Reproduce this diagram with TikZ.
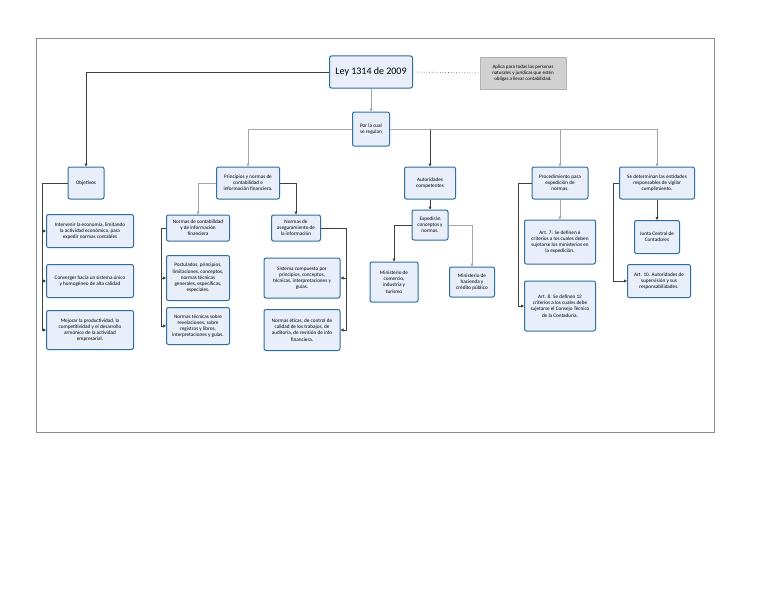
\documentclass[tikz,border=0pt]{standalone}
\usepackage{fontspec}
\setmainfont{Carlito}
\usetikzlibrary{arrows.meta}
\definecolor{bord}{RGB}{46,110,160}
\definecolor{bfill}{RGB}{232,238,250}
\begin{document}
\begin{tikzpicture}[x=1pt,y=-1pt,
 box/.style={draw=bord,line width=1pt,rounded corners=2pt,fill=bfill,align=center,font=\fontsize{5.2}{6.2}\selectfont,inner sep=1pt,minimum height=#1},
 box/.default=30,
 con/.style={draw=black!75,line width=0.8pt,-{Triangle[length=3pt,width=3pt]}},
 lcon/.style={draw=black!35,line width=0.8pt,-{Triangle[length=3pt,width=3pt]}}]
\useasboundingbox (0,0) rectangle (768,594);
\fill[white] (0,0) rectangle (768,594);
\draw[black!45,line width=0.8pt] (36,38) rectangle (714,432);
\node[box=32,minimum width=83,font=\fontsize{10}{11}\selectfont] (ley) at (371,72) {Ley 1314 de 2009};
\node[draw=black!30,fill=black!18,minimum width=86,minimum height=32,align=center,font=\fontsize{5}{6}\selectfont,inner sep=1pt] (note) at (523,73) {Aplica para todas las personas\\naturales y jurídicas que estén\\obligas a llevar contabilidad.};
\node[box=34,minimum width=37] (por) at (371,129) {Por la cual\\se regulan};
\node[box=32,minimum width=36] (obj) at (86,183) {Objetivos};
\node[box=32,minimum width=63] (pri) at (248,183) {Principios y normas de\\contabilidad e\\información financiera.};
\node[box=32,minimum width=51] (aut) at (430,183) {Autoridades\\competentes};
\node[box=32,minimum width=56] (pro) at (560,183) {Procedimiento para\\expedición de\\normas.};
\node[box=32,minimum width=75] (det) at (657,183) {Se determinan las entidades\\responsables de vigilar\\cumplimiento.};
\node[box=33,minimum width=87] (int) at (90,231) {Intervenir la economía, limitando\\la actividad económica, para\\expedir normas contables};
\node[box=33,minimum width=87] (con) at (90,281) {Converger hacia un sistema único\\y homogéneo de alta calidad};
\node[box=39,minimum width=87] (mej) at (90,330) {Mejorar la productividad, la\\competitividad y el desarrollo\\armónico de la actividad\\empresarial.};
\node[box=26,minimum width=63] (nc) at (198,228) {Normas de contabilidad\\y de información\\financiera};
\node[box=45,minimum width=63] (pos) at (198,278) {Postulados, principios,\\limitaciones, conceptos,\\normas técnicas\\generales, específicas,\\especiales.};
\node[box=37,minimum width=63] (nt) at (198,326) {Normas técnicas sobre\\revelaciones, sobre\\registros y libros,\\interpretaciones y guías.};
\node[box=26,minimum width=49] (na) at (296,228) {Normas de\\aseguramiento de\\la información};
\node[box=40,minimum width=76] (sis) at (302,278) {Sistema compuesto por\\principios, conceptos,\\técnicas, interpretaciones y\\guías.};
\node[box=41,minimum width=76] (eti) at (302,330) {Normas éticas, de control de\\calidad de los trabajos, de\\auditoría, de revisión de info\\financiera.};
\node[box=30,minimum width=36] (exp) at (430,225) {Expedirán\\conceptos y\\normas.};
\node[box=40,minimum width=48] (mc) at (394,282) {Ministerio de\\comercio,\\industria y\\turismo};
\node[box=30,minimum width=45] (mh) at (472,282) {Ministerio de\\hacienda y\\crédito público};
\node[box=44,minimum width=71] (a7) at (560,242) {Art. 7: Se definen 6\\criterios a los cuales deben\\sujetarse los ministerios en\\la expedición.};
\node[box=50,minimum width=71] (a8) at (560,306) {Art. 8. Se definen 12\\criterios a los cuales debe\\sujetarse el Consejo Técnico\\de la Contaduría.};
\node[box=33,minimum width=45] (jc) at (657,237) {Junta Central de\\Contadores};
\node[box=33,minimum width=63] (a10) at (659,281) {Art. 10. Autoridades de\\supervisión y sus\\responsabilidades.};
\draw[black!60,dotted,line width=0.7pt] (ley.east) -- (note.west);
\draw[con] (ley.west) -| (obj.north);
\draw[lcon] (ley.south) -- (por.north);
\draw[lcon] (por.west) -| (pri.north);
\draw[con] (por.east) -| (aut.north);
\draw[lcon] (por.east) -| (pro.north);
\draw[lcon] (por.east) -| (det.north);
\draw[con] (obj.west) -- ++(-25,0) |- (int.west);
\draw[con] (obj.west) -- ++(-25,0) |- (con.west);
\draw[con] (obj.west) -- ++(-25,0) |- (mej.west);
\draw[lcon] (pri.west) -| (nc.north);
\draw[con] (pri.east) -| (na.north);
\draw[con] (nc.west) -- ++(-5,0) |- (pos.west);
\draw[con] (nc.west) -- ++(-5,0) |- (nt.west);
\draw[con] (na.east) -- ++(25,0) |- (sis.east);
\draw[con] (na.east) -- ++(25,0) |- (eti.east);
\draw[con] (aut.south) -- (exp.north);
\draw[con] (exp.west) -| (mc.north);
\draw[lcon] (exp.east) -| (mh.north);
\draw[lcon] (pro.south) -- (a7.north);
\draw[con] (pro.west) -- ++(-13,0) |- (a8.west);
\draw[con] (det.south) -- (jc.north);
\draw[con] (det.west) -- ++(-6,0) |- (a10.west);
\end{tikzpicture}
\end{document}
